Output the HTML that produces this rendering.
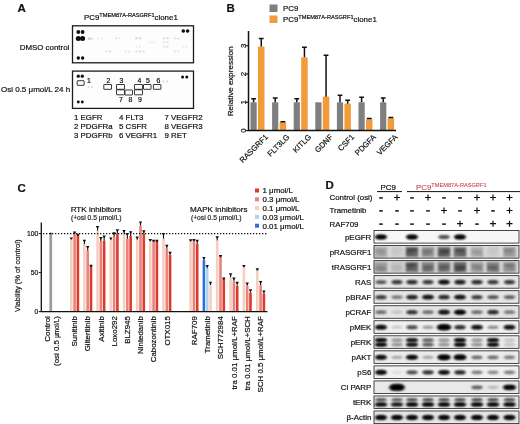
<!DOCTYPE html>
<html lang="en"><head><meta charset="utf-8"><title>Figure</title>
<style>html,body{margin:0;padding:0;background:#fff;}body{width:520px;height:424px;overflow:hidden;}svg{display:block;font-family:'Liberation Sans', sans-serif;}text{stroke:#111;stroke-width:.2px;}text.red{stroke:#c93a4c;stroke-width:.08px;}</style>
</head><body>
<svg width="520" height="424" viewBox="0 0 520 424">
<defs>
<filter id="b1" x="-30%" y="-80%" width="160%" height="260%"><feGaussianBlur stdDeviation="1.1 0.8"/></filter>
<filter id="b2" x="-30%" y="-80%" width="160%" height="260%"><feGaussianBlur stdDeviation="1.2 1.0"/></filter>
<filter id="b0" x="-30%" y="-30%" width="160%" height="160%"><feGaussianBlur stdDeviation="0.5"/></filter>
</defs>
<rect x="0" y="0" width="520" height="424" fill="#ffffff"/>
<g id="panelA">
<text x="17.5" y="12" font-size="11.5" text-anchor="start" font-weight="bold" fill="#111" >A</text>
<text x="84" y="20.4" font-size="7.9" fill="#111">PC9<tspan font-size="5.65" dy="-3.4">TMEM87A-RASGRF1</tspan><tspan font-size="7.9" dy="3.4">clone1</tspan></text>
<rect x="72.5" y="25.8" width="121" height="37" fill="#fdfdfd" stroke="#1c1c1c" stroke-width="1.3"/>
<rect x="72.5" y="71.1" width="121" height="37.3" fill="#fdfdfd" stroke="#1c1c1c" stroke-width="1.3"/>
<circle cx="78.3" cy="32" r="1.9" fill="#0a0a0a" opacity="1.0" filter="url(#b0)"/>
<circle cx="78.3" cy="38.6" r="2.5" fill="#0a0a0a" opacity="1.0" filter="url(#b0)"/>
<circle cx="78.3" cy="58" r="1.7" fill="#0a0a0a" opacity="1.0" filter="url(#b0)"/>
<circle cx="82.6" cy="32" r="1.9" fill="#0a0a0a" opacity="1.0" filter="url(#b0)"/>
<circle cx="82.6" cy="38.6" r="2.5" fill="#0a0a0a" opacity="1.0" filter="url(#b0)"/>
<circle cx="82.6" cy="58" r="1.7" fill="#0a0a0a" opacity="1.0" filter="url(#b0)"/>
<circle cx="183.3" cy="31" r="1.8" fill="#0a0a0a" opacity="1.0" filter="url(#b0)"/>
<circle cx="187.6" cy="31" r="1.8" fill="#0a0a0a" opacity="1.0" filter="url(#b0)"/>
<circle cx="89.2" cy="38.8" r="1.2" fill="#555" opacity="0.28" filter="url(#b0)"/>
<circle cx="91.6" cy="38.8" r="1.2" fill="#555" opacity="0.2" filter="url(#b0)"/>
<circle cx="116.2" cy="38.3" r="1.2" fill="#555" opacity="0.12" filter="url(#b0)"/>
<circle cx="119.5" cy="38.3" r="1.2" fill="#555" opacity="0.1" filter="url(#b0)"/>
<circle cx="136.4" cy="38.3" r="1.2" fill="#555" opacity="0.2" filter="url(#b0)"/>
<circle cx="140" cy="38.3" r="1.2" fill="#555" opacity="0.2" filter="url(#b0)"/>
<circle cx="163.9" cy="38.3" r="1.2" fill="#555" opacity="0.16" filter="url(#b0)"/>
<circle cx="167.5" cy="38.3" r="1.2" fill="#555" opacity="0.16" filter="url(#b0)"/>
<circle cx="175.1" cy="38.3" r="1.2" fill="#555" opacity="0.14" filter="url(#b0)"/>
<circle cx="178.2" cy="38.8" r="1.2" fill="#555" opacity="0.14" filter="url(#b0)"/>
<circle cx="136.4" cy="51.4" r="1.2" fill="#555" opacity="0.16" filter="url(#b0)"/>
<circle cx="140" cy="51.4" r="1.2" fill="#555" opacity="0.16" filter="url(#b0)"/>
<circle cx="143.6" cy="51.4" r="1.2" fill="#555" opacity="0.14" filter="url(#b0)"/>
<circle cx="106.6" cy="51.4" r="1.2" fill="#555" opacity="0.14" filter="url(#b0)"/>
<circle cx="110.2" cy="51.4" r="1.2" fill="#555" opacity="0.14" filter="url(#b0)"/>
<circle cx="163.9" cy="46.7" r="1.2" fill="#555" opacity="0.14" filter="url(#b0)"/>
<circle cx="167.5" cy="46.7" r="1.2" fill="#555" opacity="0.14" filter="url(#b0)"/>
<circle cx="175.1" cy="51.4" r="1.2" fill="#555" opacity="0.12" filter="url(#b0)"/>
<circle cx="178.2" cy="51.4" r="1.2" fill="#555" opacity="0.12" filter="url(#b0)"/>
<circle cx="163.9" cy="42.2" r="1.2" fill="#555" opacity="0.1" filter="url(#b0)"/>
<circle cx="167.5" cy="42.2" r="1.2" fill="#555" opacity="0.1" filter="url(#b0)"/>
<circle cx="125.7" cy="51.4" r="1.2" fill="#555" opacity="0.1" filter="url(#b0)"/>
<circle cx="129.2" cy="51.4" r="1.2" fill="#555" opacity="0.1" filter="url(#b0)"/>
<circle cx="150" cy="42.5" r="1.2" fill="#555" opacity="0.08" filter="url(#b0)"/>
<circle cx="153.5" cy="42.5" r="1.2" fill="#555" opacity="0.08" filter="url(#b0)"/>
<circle cx="136.4" cy="46.7" r="1.2" fill="#555" opacity="0.08" filter="url(#b0)"/>
<circle cx="140" cy="46.7" r="1.2" fill="#555" opacity="0.08" filter="url(#b0)"/>
<circle cx="98" cy="38.5" r="1.2" fill="#555" opacity="0.08" filter="url(#b0)"/>
<circle cx="101.5" cy="38.5" r="1.2" fill="#555" opacity="0.08" filter="url(#b0)"/>
<circle cx="183" cy="46.7" r="1.2" fill="#555" opacity="0.08" filter="url(#b0)"/>
<circle cx="186.5" cy="46.7" r="1.2" fill="#555" opacity="0.08" filter="url(#b0)"/>
<circle cx="78.3" cy="76.2" r="1.6" fill="#0a0a0a" opacity="1.0" filter="url(#b0)"/>
<circle cx="78.3" cy="102" r="1.4" fill="#0a0a0a" opacity="1.0" filter="url(#b0)"/>
<circle cx="82.3" cy="76.2" r="1.6" fill="#0a0a0a" opacity="1.0" filter="url(#b0)"/>
<circle cx="82.3" cy="102" r="1.4" fill="#0a0a0a" opacity="1.0" filter="url(#b0)"/>
<circle cx="182.6" cy="76.9" r="1.5" fill="#0a0a0a" opacity="1.0" filter="url(#b0)"/>
<circle cx="186.8" cy="76.9" r="1.5" fill="#0a0a0a" opacity="1.0" filter="url(#b0)"/>
<circle cx="163.5" cy="81.5" r="1.0" fill="#999" opacity="0.35" filter="url(#b0)"/>
<circle cx="167" cy="81.5" r="1.0" fill="#999" opacity="0.35" filter="url(#b0)"/>
<circle cx="88.5" cy="87" r="1.0" fill="#999" opacity="0.35" filter="url(#b0)"/>
<circle cx="92" cy="87" r="1.0" fill="#999" opacity="0.35" filter="url(#b0)"/>
<rect x="77.2" y="80.7" width="6.9" height="4.6" rx="0.3" fill="none" stroke="#222" stroke-width="0.9"/>
<rect x="103.8" y="84.5" width="7.7" height="4.8" rx="0.3" fill="none" stroke="#222" stroke-width="0.9"/>
<rect x="116.5" y="84.5" width="8" height="4.8" rx="0.3" fill="none" stroke="#222" stroke-width="0.9"/>
<rect x="116.5" y="89.8" width="8" height="5" rx="0.3" fill="none" stroke="#222" stroke-width="0.9"/>
<rect x="125" y="90" width="7.5" height="5" rx="0.3" fill="none" stroke="#222" stroke-width="0.9"/>
<rect x="134.5" y="84.5" width="8" height="4.8" rx="0.3" fill="none" stroke="#222" stroke-width="0.9"/>
<rect x="134.5" y="89.8" width="8" height="5" rx="0.3" fill="none" stroke="#222" stroke-width="0.9"/>
<rect x="143.5" y="84.5" width="7.5" height="4.8" rx="0.3" fill="none" stroke="#222" stroke-width="0.9"/>
<rect x="153.4" y="84.5" width="7.5" height="4.8" rx="0.3" fill="none" stroke="#222" stroke-width="0.9"/>
<text x="89" y="82.5" font-size="6.9" text-anchor="middle" font-weight="normal" fill="#111" >1</text>
<text x="108.4" y="82.5" font-size="6.9" text-anchor="middle" font-weight="normal" fill="#111" >2</text>
<text x="121.4" y="82.5" font-size="6.9" text-anchor="middle" font-weight="normal" fill="#111" >3</text>
<text x="139.5" y="82.5" font-size="6.9" text-anchor="middle" font-weight="normal" fill="#111" >4</text>
<text x="147.8" y="82.5" font-size="6.9" text-anchor="middle" font-weight="normal" fill="#111" >5</text>
<text x="158.4" y="82.5" font-size="6.9" text-anchor="middle" font-weight="normal" fill="#111" >6</text>
<text x="121" y="102" font-size="6.9" text-anchor="middle" font-weight="normal" fill="#111" >7</text>
<text x="130.5" y="102" font-size="6.9" text-anchor="middle" font-weight="normal" fill="#111" >8</text>
<text x="140" y="102" font-size="6.9" text-anchor="middle" font-weight="normal" fill="#111" >9</text>
<text x="69.3" y="50" font-size="7.9" text-anchor="end" font-weight="normal" fill="#111" >DMSO control</text>
<text x="70.2" y="92.2" font-size="8.0" text-anchor="end" font-weight="normal" fill="#111" >Osi 0.5 μmol/L 24 h</text>
<text x="74" y="120.2" font-size="7.9" text-anchor="start" font-weight="normal" fill="#111" >1 EGFR</text>
<text x="119" y="120.2" font-size="7.9" text-anchor="start" font-weight="normal" fill="#111" >4 FLT3</text>
<text x="164.5" y="120.2" font-size="7.9" text-anchor="start" font-weight="normal" fill="#111" >7 VEGFR2</text>
<text x="74" y="129.0" font-size="7.9" text-anchor="start" font-weight="normal" fill="#111" >2 PDGFRa</text>
<text x="119" y="129.0" font-size="7.9" text-anchor="start" font-weight="normal" fill="#111" >5 CSFR</text>
<text x="164.5" y="129.0" font-size="7.9" text-anchor="start" font-weight="normal" fill="#111" >8 VEGFR3</text>
<text x="74" y="137.8" font-size="7.9" text-anchor="start" font-weight="normal" fill="#111" >3 PDGFRb</text>
<text x="119" y="137.8" font-size="7.9" text-anchor="start" font-weight="normal" fill="#111" >6 VEGFR1</text>
<text x="164.5" y="137.8" font-size="7.9" text-anchor="start" font-weight="normal" fill="#111" >9 RET</text>
</g>
<g id="panelB">
<text x="226.5" y="11.5" font-size="11.5" text-anchor="start" font-weight="bold" fill="#111" >B</text>
<rect x="269.5" y="4.5" width="8" height="7.5" fill="#7f7f7f"/>
<rect x="269.5" y="15.5" width="8" height="7.5" fill="#f39a3a"/>
<text x="283" y="10.8" font-size="7.9" text-anchor="start" font-weight="normal" fill="#111" >PC9</text>
<text x="283" y="22.3" font-size="7.9" fill="#111">PC9<tspan font-size="5.65" dy="-3.4">TMEM87A-RASGRF1</tspan><tspan font-size="7.9" dy="3.4">clone1</tspan></text>
<rect x="250.50" y="102.30" width="6.2" height="28.30" fill="#7f7f7f"/>
<rect x="258.00" y="46.55" width="6.5" height="84.05" fill="#f39a3a"/>
<path d="M253.60 102.30V98.34M251.20 98.74H256.00" stroke="#111" stroke-width="1.5" fill="none"/>
<path d="M261.25 46.55V38.06M258.85 38.46H263.65" stroke="#111" stroke-width="1.5" fill="none"/>
<text transform="translate(268.5 137.5) rotate(-45)" font-size="7.7" text-anchor="end" fill="#111">RASGRF1</text>
<rect x="272.10" y="102.30" width="6.2" height="28.30" fill="#7f7f7f"/>
<rect x="279.60" y="122.11" width="6.5" height="8.49" fill="#f39a3a"/>
<path d="M275.20 102.30V97.49M272.80 97.89H277.60" stroke="#111" stroke-width="1.5" fill="none"/>
<path d="M282.85 122.11V121.26M280.45 121.66H285.25" stroke="#111" stroke-width="1.5" fill="none"/>
<text transform="translate(290.1 137.5) rotate(-45)" font-size="7.7" text-anchor="end" fill="#111">FLT3LG</text>
<rect x="293.70" y="102.30" width="6.2" height="28.30" fill="#7f7f7f"/>
<rect x="301.20" y="57.30" width="6.5" height="73.30" fill="#f39a3a"/>
<path d="M296.80 102.30V98.34M294.40 98.74H299.20" stroke="#111" stroke-width="1.5" fill="none"/>
<path d="M304.45 57.30V46.83M302.05 47.23H306.85" stroke="#111" stroke-width="1.5" fill="none"/>
<text transform="translate(311.7 137.5) rotate(-45)" font-size="7.7" text-anchor="end" fill="#111">KITLG</text>
<rect x="315.30" y="102.30" width="6.2" height="28.30" fill="#7f7f7f"/>
<rect x="322.80" y="96.64" width="6.5" height="33.96" fill="#f39a3a"/>
<path d="M326.05 96.64V54.76M323.65 55.16H328.45" stroke="#111" stroke-width="1.5" fill="none"/>
<text transform="translate(333.3 137.5) rotate(-45)" font-size="7.7" text-anchor="end" fill="#111">GDNF</text>
<rect x="336.90" y="102.30" width="6.2" height="28.30" fill="#7f7f7f"/>
<rect x="344.40" y="103.72" width="6.5" height="26.88" fill="#f39a3a"/>
<path d="M340.00 102.30V94.94M337.60 95.34H342.40" stroke="#111" stroke-width="1.5" fill="none"/>
<path d="M347.65 103.72V99.75M345.25 100.15H350.05" stroke="#111" stroke-width="1.5" fill="none"/>
<text transform="translate(354.9 137.5) rotate(-45)" font-size="7.7" text-anchor="end" fill="#111">CSF1</text>
<rect x="358.50" y="102.30" width="6.2" height="28.30" fill="#7f7f7f"/>
<rect x="366.00" y="119.28" width="6.5" height="11.32" fill="#f39a3a"/>
<path d="M361.60 102.30V96.92M359.20 97.32H364.00" stroke="#111" stroke-width="1.5" fill="none"/>
<path d="M369.25 119.28V118.15M366.85 118.55H371.65" stroke="#111" stroke-width="1.5" fill="none"/>
<text transform="translate(376.5 137.5) rotate(-45)" font-size="7.7" text-anchor="end" fill="#111">PDGFA</text>
<rect x="380.10" y="102.30" width="6.2" height="28.30" fill="#7f7f7f"/>
<rect x="387.60" y="118.15" width="6.5" height="12.45" fill="#f39a3a"/>
<path d="M383.20 102.30V97.49M380.80 97.89H385.60" stroke="#111" stroke-width="1.5" fill="none"/>
<path d="M390.85 118.15V117.02M388.45 117.42H393.25" stroke="#111" stroke-width="1.5" fill="none"/>
<text transform="translate(398.1 137.5) rotate(-45)" font-size="7.7" text-anchor="end" fill="#111">VEGFA</text>
<path d="M248.5 31V131.2M247.9 130.6H396" stroke="#111" stroke-width="1.5" fill="none"/>
<path d="M245.5 130.60H248.5" stroke="#111" stroke-width="1.1"/>
<text transform="translate(246.2 130.60) rotate(-90)" font-size="7.9" text-anchor="middle" fill="#111">0</text>
<path d="M245.5 102.30H248.5" stroke="#111" stroke-width="1.1"/>
<text transform="translate(246.2 102.30) rotate(-90)" font-size="7.9" text-anchor="middle" fill="#111">1</text>
<path d="M245.5 74.00H248.5" stroke="#111" stroke-width="1.1"/>
<text transform="translate(246.2 74.00) rotate(-90)" font-size="7.9" text-anchor="middle" fill="#111">2</text>
<path d="M245.5 45.70H248.5" stroke="#111" stroke-width="1.1"/>
<text transform="translate(246.2 45.70) rotate(-90)" font-size="7.9" text-anchor="middle" fill="#111">3</text>
<text transform="translate(233.2 81.3) rotate(-90)" font-size="8" text-anchor="middle" fill="#111">Relative expression</text>
</g>
<g id="panelC">
<text x="17.5" y="192" font-size="11.5" font-weight="bold" fill="#111">C</text>
<rect x="49.4" y="233.60" width="2.7" height="78.00" fill="#9b9b9b"/>
<circle cx="50.75" cy="233.30" r="0.9" fill="#111"/>
<rect x="70.00" y="238.28" width="2.6" height="73.32" fill="#f7cfc0"/>
<path d="M69.60 237.38H73.00L71.80 239.58H70.80Z" fill="#111"/>
<rect x="73.30" y="233.60" width="2.6" height="78.00" fill="#e8827a"/>
<path d="M74.60 233.60V232.43" stroke="#111" stroke-width="1.1"/>
<path d="M72.90 231.53H76.30L75.10 233.73H74.10Z" fill="#111"/>
<rect x="76.60" y="234.77" width="2.6" height="76.83" fill="#dc3a2a"/>
<path d="M76.20 233.87H79.60L78.40 236.07H77.40Z" fill="#111"/>
<text transform="translate(77.3 316.2) rotate(-90)" font-size="7.9" text-anchor="end" fill="#111">Sunitinib</text>
<rect x="83.10" y="244.13" width="2.6" height="67.47" fill="#f7cfc0"/>
<path d="M84.40 244.13V240.62" stroke="#111" stroke-width="1.1"/>
<path d="M82.70 239.72H86.10L84.90 241.92H83.90Z" fill="#111"/>
<rect x="86.40" y="250.76" width="2.6" height="60.84" fill="#e8827a"/>
<path d="M87.70 250.76V246.86" stroke="#111" stroke-width="1.1"/>
<path d="M86.00 245.96H89.40L88.20 248.16H87.20Z" fill="#111"/>
<rect x="89.70" y="265.58" width="2.6" height="46.02" fill="#dc3a2a"/>
<path d="M89.30 264.68H92.70L91.50 266.88H90.50Z" fill="#111"/>
<text transform="translate(90.4 316.2) rotate(-90)" font-size="7.9" text-anchor="end" fill="#111">Gilteritinib</text>
<rect x="96.25" y="230.87" width="2.6" height="80.73" fill="#f7cfc0"/>
<path d="M97.55 230.87V226.97" stroke="#111" stroke-width="1.1"/>
<path d="M95.85 226.07H99.25L98.05 228.27H97.05Z" fill="#111"/>
<rect x="99.55" y="241.01" width="2.6" height="70.59" fill="#e8827a"/>
<path d="M100.85 241.01V237.89" stroke="#111" stroke-width="1.1"/>
<path d="M99.15 236.99H102.55L101.35 239.19H100.35Z" fill="#111"/>
<rect x="102.85" y="241.01" width="2.6" height="70.59" fill="#dc3a2a"/>
<path d="M104.15 241.01V236.33" stroke="#111" stroke-width="1.1"/>
<path d="M102.45 235.43H105.85L104.65 237.63H103.65Z" fill="#111"/>
<text transform="translate(103.5 316.2) rotate(-90)" font-size="7.9" text-anchor="end" fill="#111">Axitinib</text>
<rect x="109.50" y="239.84" width="2.6" height="71.76" fill="#f7cfc0"/>
<path d="M110.80 239.84V238.28" stroke="#111" stroke-width="1.1"/>
<path d="M109.10 237.38H112.50L111.30 239.58H110.30Z" fill="#111"/>
<rect x="112.80" y="237.11" width="2.6" height="74.49" fill="#e8827a"/>
<path d="M114.10 237.11V233.21" stroke="#111" stroke-width="1.1"/>
<path d="M112.40 232.31H115.80L114.60 234.51H113.60Z" fill="#111"/>
<rect x="116.10" y="233.60" width="2.6" height="78.00" fill="#dc3a2a"/>
<path d="M117.40 233.60V230.09" stroke="#111" stroke-width="1.1"/>
<path d="M115.70 229.19H119.10L117.90 231.39H116.90Z" fill="#111"/>
<text transform="translate(116.8 316.2) rotate(-90)" font-size="7.9" text-anchor="end" fill="#111">Loxo292</text>
<rect x="122.75" y="233.60" width="2.6" height="78.00" fill="#f7cfc0"/>
<path d="M124.05 233.60V230.87" stroke="#111" stroke-width="1.1"/>
<path d="M122.35 229.97H125.75L124.55 232.17H123.55Z" fill="#111"/>
<rect x="126.05" y="238.67" width="2.6" height="72.93" fill="#e8827a"/>
<path d="M127.35 238.67V233.99" stroke="#111" stroke-width="1.1"/>
<path d="M125.65 233.09H129.05L127.85 235.29H126.85Z" fill="#111"/>
<rect x="129.35" y="235.94" width="2.6" height="75.66" fill="#dc3a2a"/>
<path d="M130.65 235.94V232.04" stroke="#111" stroke-width="1.1"/>
<path d="M128.95 231.14H132.35L131.15 233.34H130.15Z" fill="#111"/>
<text transform="translate(130.0 316.2) rotate(-90)" font-size="7.9" text-anchor="end" fill="#111">BLZ945</text>
<rect x="135.90" y="239.84" width="2.6" height="71.76" fill="#f7cfc0"/>
<path d="M137.20 239.84V237.50" stroke="#111" stroke-width="1.1"/>
<path d="M135.50 236.60H138.90L137.70 238.80H136.70Z" fill="#111"/>
<rect x="139.20" y="225.41" width="2.6" height="86.19" fill="#e8827a"/>
<path d="M140.50 225.41V222.29" stroke="#111" stroke-width="1.1"/>
<path d="M138.80 221.39H142.20L141.00 223.59H140.00Z" fill="#111"/>
<rect x="142.50" y="233.60" width="2.6" height="78.00" fill="#dc3a2a"/>
<path d="M143.80 233.60V231.26" stroke="#111" stroke-width="1.1"/>
<path d="M142.10 230.36H145.50L144.30 232.56H143.30Z" fill="#111"/>
<text transform="translate(143.2 316.2) rotate(-90)" font-size="7.9" text-anchor="end" fill="#111">Nintedanib</text>
<rect x="149.00" y="239.84" width="2.6" height="71.76" fill="#f7cfc0"/>
<path d="M148.60 238.94H152.00L150.80 241.14H149.80Z" fill="#111"/>
<rect x="152.30" y="240.62" width="2.6" height="70.98" fill="#e8827a"/>
<path d="M151.90 239.72H155.30L154.10 241.92H153.10Z" fill="#111"/>
<rect x="155.60" y="240.62" width="2.6" height="70.98" fill="#dc3a2a"/>
<path d="M155.20 239.72H158.60L157.40 241.92H156.40Z" fill="#111"/>
<text transform="translate(156.3 316.2) rotate(-90)" font-size="7.9" text-anchor="end" fill="#111">Cabozontinib</text>
<rect x="162.20" y="238.67" width="2.6" height="72.93" fill="#f7cfc0"/>
<path d="M163.50 238.67V233.99" stroke="#111" stroke-width="1.1"/>
<path d="M161.80 233.09H165.20L164.00 235.29H163.00Z" fill="#111"/>
<rect x="165.50" y="248.81" width="2.6" height="62.79" fill="#e8827a"/>
<path d="M166.80 248.81V245.69" stroke="#111" stroke-width="1.1"/>
<path d="M165.10 244.79H168.50L167.30 246.99H166.30Z" fill="#111"/>
<rect x="168.80" y="255.05" width="2.6" height="56.55" fill="#dc3a2a"/>
<path d="M170.10 255.05V252.71" stroke="#111" stroke-width="1.1"/>
<path d="M168.40 251.81H171.80L170.60 254.01H169.60Z" fill="#111"/>
<text transform="translate(169.5 316.2) rotate(-90)" font-size="7.9" text-anchor="end" fill="#111">OTX015</text>
<rect x="189.30" y="240.23" width="2.6" height="71.37" fill="#f7cfc0"/>
<path d="M188.90 239.33H192.30L191.10 241.53H190.10Z" fill="#111"/>
<rect x="192.60" y="239.84" width="2.6" height="71.76" fill="#e8827a"/>
<path d="M192.20 238.94H195.60L194.40 241.14H193.40Z" fill="#111"/>
<rect x="195.90" y="243.74" width="2.6" height="67.86" fill="#dc3a2a"/>
<path d="M197.20 243.74V240.62" stroke="#111" stroke-width="1.1"/>
<path d="M195.50 239.72H198.90L197.70 241.92H196.70Z" fill="#111"/>
<text transform="translate(196.6 316.2) rotate(-90)" font-size="7.9" text-anchor="end" fill="#111">RAF709</text>
<rect x="202.60" y="260.12" width="2.6" height="51.48" fill="#2d6fdc"/>
<path d="M203.90 260.12V257.78" stroke="#111" stroke-width="1.1"/>
<path d="M202.20 256.88H205.60L204.40 259.08H203.40Z" fill="#111"/>
<rect x="205.90" y="268.31" width="2.6" height="43.29" fill="#a9d6ee"/>
<path d="M207.20 268.31V265.97" stroke="#111" stroke-width="1.1"/>
<path d="M205.50 265.07H208.90L207.70 267.27H206.70Z" fill="#111"/>
<rect x="209.20" y="285.08" width="2.6" height="26.52" fill="#f7cfc0"/>
<path d="M210.50 285.08V282.74" stroke="#111" stroke-width="1.1"/>
<path d="M208.80 281.84H212.20L211.00 284.04H210.00Z" fill="#111"/>
<text transform="translate(209.9 316.2) rotate(-90)" font-size="7.9" text-anchor="end" fill="#111">Trametinib</text>
<rect x="215.90" y="240.62" width="2.6" height="70.98" fill="#f7cfc0"/>
<path d="M217.20 240.62V237.11" stroke="#111" stroke-width="1.1"/>
<path d="M215.50 236.21H218.90L217.70 238.41H216.70Z" fill="#111"/>
<rect x="219.20" y="255.83" width="2.6" height="55.77" fill="#e8827a"/>
<path d="M218.80 254.93H222.20L221.00 257.13H220.00Z" fill="#111"/>
<rect x="222.50" y="278.45" width="2.6" height="33.15" fill="#dc3a2a"/>
<path d="M222.10 277.55H225.50L224.30 279.75H223.30Z" fill="#111"/>
<text transform="translate(223.2 316.2) rotate(-90)" font-size="7.9" text-anchor="end" fill="#111">SCH772984</text>
<rect x="229.30" y="277.28" width="2.6" height="34.32" fill="#f7cfc0"/>
<path d="M230.60 277.28V274.16" stroke="#111" stroke-width="1.1"/>
<path d="M228.90 273.26H232.30L231.10 275.46H230.10Z" fill="#111"/>
<rect x="232.60" y="280.79" width="2.6" height="30.81" fill="#e8827a"/>
<path d="M233.90 280.79V278.45" stroke="#111" stroke-width="1.1"/>
<path d="M232.20 277.55H235.60L234.40 279.75H233.40Z" fill="#111"/>
<rect x="235.90" y="285.86" width="2.6" height="25.74" fill="#dc3a2a"/>
<path d="M237.20 285.86V282.74" stroke="#111" stroke-width="1.1"/>
<path d="M235.50 281.84H238.90L237.70 284.04H236.70Z" fill="#111"/>
<text transform="translate(236.6 316.2) rotate(-90)" font-size="7.9" text-anchor="end" fill="#111">tra 0.01 μmol/L+RAF</text>
<rect x="242.60" y="265.97" width="2.6" height="45.63" fill="#f7cfc0"/>
<path d="M242.20 265.07H245.60L244.40 267.27H243.40Z" fill="#111"/>
<rect x="245.90" y="285.86" width="2.6" height="25.74" fill="#e8827a"/>
<path d="M247.20 285.86V283.52" stroke="#111" stroke-width="1.1"/>
<path d="M245.50 282.62H248.90L247.70 284.82H246.70Z" fill="#111"/>
<rect x="249.20" y="292.49" width="2.6" height="19.11" fill="#dc3a2a"/>
<path d="M250.50 292.49V290.15" stroke="#111" stroke-width="1.1"/>
<path d="M248.80 289.25H252.20L251.00 291.45H250.00Z" fill="#111"/>
<text transform="translate(249.9 316.2) rotate(-90)" font-size="7.9" text-anchor="end" fill="#111">tra 0.01 μmol/L+SCH</text>
<rect x="256.00" y="269.09" width="2.6" height="42.51" fill="#f7cfc0"/>
<path d="M255.60 268.19H259.00L257.80 270.39H256.80Z" fill="#111"/>
<rect x="259.30" y="285.08" width="2.6" height="26.52" fill="#e8827a"/>
<path d="M260.60 285.08V281.96" stroke="#111" stroke-width="1.1"/>
<path d="M258.90 281.06H262.30L261.10 283.26H260.10Z" fill="#111"/>
<rect x="262.60" y="293.66" width="2.6" height="17.94" fill="#dc3a2a"/>
<path d="M263.90 293.66V291.32" stroke="#111" stroke-width="1.1"/>
<path d="M262.20 290.42H265.60L264.40 292.62H263.40Z" fill="#111"/>
<text transform="translate(263.3 316.2) rotate(-90)" font-size="7.9" text-anchor="end" fill="#111">SCH 0.5 μmol/L+RAF</text>
<text transform="translate(50.3 316.2) rotate(-90)" font-size="7.9" text-anchor="end" fill="#111">Control</text>
<text transform="translate(58.9 316.2) rotate(-90)" font-size="7.9" text-anchor="end" fill="#111">(osi 0.5 <tspan font-size="6.3">μmol/L</tspan>)</text>
<path d="M43 233.60H267" stroke="#111" stroke-width="1.3" stroke-dasharray="1.3 1.7" fill="none"/>
<path d="M41.3 222.5V312.20000000000005M40.7 311.6H267.5" stroke="#111" stroke-width="1.3" fill="none"/>
<path d="M38.8 311.60H41.3" stroke="#111" stroke-width="1"/>
<text x="38.3" y="314.1" font-size="6.8" text-anchor="end" font-weight="normal" fill="#111" >0</text>
<path d="M38.8 272.60H41.3" stroke="#111" stroke-width="1"/>
<text x="38.3" y="275.1" font-size="6.8" text-anchor="end" font-weight="normal" fill="#111" >50</text>
<path d="M38.8 233.60H41.3" stroke="#111" stroke-width="1"/>
<text x="38.3" y="236.1" font-size="6.8" text-anchor="end" font-weight="normal" fill="#111" >100</text>
<text transform="translate(19.8 275.8) rotate(-90)" font-size="7.5" text-anchor="middle" fill="#222" stroke-width="0.1">Viability (% of control)</text>
<text x="96" y="212.3" font-size="8.1" text-anchor="middle" font-weight="normal" fill="#111" >RTK inhibitors</text>
<text x="96.2" y="219.8" font-size="6.75" text-anchor="middle" font-weight="normal" fill="#333" stroke-width="0.1">(+osi 0.5 μmol/L)</text>
<text x="218.8" y="212.3" font-size="8.1" text-anchor="middle" font-weight="normal" fill="#111" >MAPK inhibitors</text>
<text x="216.2" y="219.8" font-size="6.75" text-anchor="middle" font-weight="normal" fill="#333" stroke-width="0.1">(+osi 0.5 μmol/L)</text>
<rect x="255" y="188.50" width="4" height="4" fill="#dc3a2a"/>
<text x="262.5" y="193.4" font-size="7.9" text-anchor="start" font-weight="normal" fill="#111" >1 μmol/L</text>
<rect x="255" y="197.30" width="4" height="4" fill="#e8827a"/>
<text x="262.5" y="202.2" font-size="7.9" text-anchor="start" font-weight="normal" fill="#111" >0.3 μmol/L</text>
<rect x="255" y="206.10" width="4" height="4" fill="#f7cfc0"/>
<text x="262.5" y="211.0" font-size="7.9" text-anchor="start" font-weight="normal" fill="#111" >0.1 μmol/L</text>
<rect x="255" y="214.90" width="4" height="4" fill="#a9d6ee"/>
<text x="262.5" y="219.8" font-size="7.9" text-anchor="start" font-weight="normal" fill="#111" >0.03 μmol/L</text>
<rect x="255" y="223.70" width="4" height="4" fill="#2d6fdc"/>
<text x="262.5" y="228.6" font-size="7.9" text-anchor="start" font-weight="normal" fill="#111" >0.01 μmol/L</text>
</g>
<g id="panelD">
<text x="325.5" y="189" font-size="11.5" font-weight="bold" fill="#111">D</text>
<text x="388.3" y="190" font-size="7.9" text-anchor="middle" font-weight="normal" fill="#111" >PC9</text>
<path d="M377 191.6H402" stroke="#111" stroke-width="1"/>
<text class="red" x="416" y="190" font-size="7.9" fill="#c93a4c">PC9<tspan font-size="5.65" dy="-3.4">TMEM87A-RASGRF1</tspan></text>
<path d="M407 191.6H520" stroke="#111" stroke-width="1"/>
<text x="329.5" y="200.4" font-size="7.9" text-anchor="start" font-weight="normal" fill="#111" >Control (osi)</text>
<path d="M379.2 197.9H382.8" stroke="#000" stroke-width="1.4"/>
<path d="M394 197.5H400M397 194.5V200.5" stroke="#111" stroke-width="1.2"/>
<path d="M410.2 197.9H413.8" stroke="#000" stroke-width="1.4"/>
<path d="M425 197.5H431M428 194.5V200.5" stroke="#111" stroke-width="1.2"/>
<path d="M442.2 197.9H445.8" stroke="#000" stroke-width="1.4"/>
<path d="M458.2 197.9H461.8" stroke="#000" stroke-width="1.4"/>
<path d="M474 197.5H480M477 194.5V200.5" stroke="#111" stroke-width="1.2"/>
<path d="M490 197.5H496M493 194.5V200.5" stroke="#111" stroke-width="1.2"/>
<path d="M506.5 197.5H512.5M509.5 194.5V200.5" stroke="#111" stroke-width="1.2"/>
<text x="329.5" y="213.4" font-size="7.9" text-anchor="start" font-weight="normal" fill="#111" >Trametinib</text>
<path d="M379.2 210.9H382.8" stroke="#000" stroke-width="1.4"/>
<path d="M395.2 210.9H398.8" stroke="#000" stroke-width="1.4"/>
<path d="M410.2 210.9H413.8" stroke="#000" stroke-width="1.4"/>
<path d="M426.2 210.9H429.8" stroke="#000" stroke-width="1.4"/>
<path d="M441 210.5H447M444 207.5V213.5" stroke="#111" stroke-width="1.2"/>
<path d="M458.2 210.9H461.8" stroke="#000" stroke-width="1.4"/>
<path d="M474 210.5H480M477 207.5V213.5" stroke="#111" stroke-width="1.2"/>
<path d="M491.2 210.9H494.8" stroke="#000" stroke-width="1.4"/>
<path d="M506.5 210.5H512.5M509.5 207.5V213.5" stroke="#111" stroke-width="1.2"/>
<text x="329.5" y="226.6" font-size="7.9" text-anchor="start" font-weight="normal" fill="#111" >RAF709</text>
<path d="M379.2 224.1H382.8" stroke="#000" stroke-width="1.4"/>
<path d="M395.2 224.1H398.8" stroke="#000" stroke-width="1.4"/>
<path d="M410.2 224.1H413.8" stroke="#000" stroke-width="1.4"/>
<path d="M426.2 224.1H429.8" stroke="#000" stroke-width="1.4"/>
<path d="M442.2 224.1H445.8" stroke="#000" stroke-width="1.4"/>
<path d="M457 223.7H463M460 220.7V226.7" stroke="#111" stroke-width="1.2"/>
<path d="M475.2 224.1H478.8" stroke="#000" stroke-width="1.4"/>
<path d="M490 223.7H496M493 220.7V226.7" stroke="#111" stroke-width="1.2"/>
<path d="M506.5 223.7H512.5M509.5 220.7V226.7" stroke="#111" stroke-width="1.2"/>
<clipPath id="cp0"><rect x="374" y="230.50" width="145" height="12.6"/></clipPath>
<rect x="374" y="230.50" width="145" height="12.6" fill="#f7f7f7"/>
<g clip-path="url(#cp0)">
<rect x="376.28" y="235.20" width="9.44" height="3.60" rx="1.80" fill="#000" opacity="1.00" filter="url(#b1)"/>
<ellipse cx="381.00" cy="237.00" rx="6.37" ry="2.48" fill="#000" opacity="0.75" filter="url(#b1)"/>
<rect x="407.28" y="235.20" width="9.44" height="3.60" rx="1.80" fill="#000" opacity="1.00" filter="url(#b1)"/>
<ellipse cx="412.00" cy="237.00" rx="6.37" ry="2.48" fill="#000" opacity="0.75" filter="url(#b1)"/>
<rect x="439.28" y="235.52" width="9.44" height="2.95" rx="1.48" fill="#000" opacity="0.55" filter="url(#b1)"/>
<ellipse cx="444.00" cy="237.00" rx="6.37" ry="2.03" fill="#000" opacity="0.41" filter="url(#b1)"/>
<rect x="455.28" y="235.20" width="9.44" height="3.60" rx="1.80" fill="#000" opacity="1.00" filter="url(#b1)"/>
<ellipse cx="460.00" cy="237.00" rx="6.37" ry="2.48" fill="#000" opacity="0.75" filter="url(#b1)"/>
</g>
<rect x="374" y="230.50" width="145" height="12.6" fill="none" stroke="#333" stroke-width="0.9"/>
<text x="371.3" y="239.7" font-size="7.9" text-anchor="end" font-weight="normal" fill="#111" >pEGFR</text>
<clipPath id="cp1"><rect x="374" y="245.54" width="145" height="12.6"/></clipPath>
<rect x="374" y="245.54" width="145" height="12.6" fill="#dadada"/>
<g clip-path="url(#cp1)">
<rect x="374.7" y="247.04" width="12.6" height="10" fill="#000" opacity="0.22" filter="url(#b2)"/>
<ellipse cx="380.30" cy="250.94" rx="5.2" ry="1.5" fill="#000" opacity="0.17" filter="url(#b1)"/>
<ellipse cx="381.60" cy="253.94" rx="4" ry="1.2" fill="#000" opacity="0.09" filter="url(#b1)"/>
<rect x="390.7" y="247.04" width="12.6" height="10" fill="#000" opacity="0.06" filter="url(#b2)"/>
<ellipse cx="397.07" cy="250.09" rx="5.2" ry="1.5" fill="#000" opacity="0.04" filter="url(#b1)"/>
<ellipse cx="396.46" cy="253.09" rx="4" ry="1.2" fill="#000" opacity="0.02" filter="url(#b1)"/>
<rect x="405.7" y="247.04" width="12.6" height="10" fill="#000" opacity="0.52" filter="url(#b2)"/>
<ellipse cx="412.01" cy="250.04" rx="5.2" ry="1.5" fill="#000" opacity="0.40" filter="url(#b1)"/>
<ellipse cx="410.15" cy="253.04" rx="4" ry="1.2" fill="#000" opacity="0.22" filter="url(#b1)"/>
<rect x="421.7" y="247.04" width="12.6" height="10" fill="#000" opacity="0.32" filter="url(#b2)"/>
<ellipse cx="427.14" cy="251.31" rx="5.2" ry="1.5" fill="#000" opacity="0.25" filter="url(#b1)"/>
<ellipse cx="426.36" cy="254.31" rx="4" ry="1.2" fill="#000" opacity="0.14" filter="url(#b1)"/>
<rect x="437.7" y="247.04" width="12.6" height="10" fill="#000" opacity="0.54" filter="url(#b2)"/>
<ellipse cx="444.65" cy="251.28" rx="5.2" ry="1.5" fill="#000" opacity="0.41" filter="url(#b1)"/>
<ellipse cx="442.50" cy="254.28" rx="4" ry="1.2" fill="#000" opacity="0.22" filter="url(#b1)"/>
<rect x="453.7" y="247.04" width="12.6" height="10" fill="#000" opacity="0.49" filter="url(#b2)"/>
<ellipse cx="460.25" cy="250.60" rx="5.2" ry="1.5" fill="#000" opacity="0.37" filter="url(#b1)"/>
<ellipse cx="461.79" cy="253.60" rx="4" ry="1.2" fill="#000" opacity="0.20" filter="url(#b1)"/>
<rect x="470.7" y="247.04" width="12.6" height="10" fill="#000" opacity="0.20" filter="url(#b2)"/>
<ellipse cx="476.79" cy="251.80" rx="5.2" ry="1.5" fill="#000" opacity="0.15" filter="url(#b1)"/>
<ellipse cx="478.91" cy="254.80" rx="4" ry="1.2" fill="#000" opacity="0.08" filter="url(#b1)"/>
<rect x="486.7" y="247.04" width="12.6" height="10" fill="#000" opacity="0.06" filter="url(#b2)"/>
<ellipse cx="493.72" cy="250.00" rx="5.2" ry="1.5" fill="#000" opacity="0.04" filter="url(#b1)"/>
<ellipse cx="492.16" cy="253.00" rx="4" ry="1.2" fill="#000" opacity="0.02" filter="url(#b1)"/>
<rect x="503.2" y="247.04" width="12.6" height="10" fill="#000" opacity="0.27" filter="url(#b2)"/>
<ellipse cx="508.74" cy="250.33" rx="5.2" ry="1.5" fill="#000" opacity="0.21" filter="url(#b1)"/>
<ellipse cx="508.73" cy="253.33" rx="4" ry="1.2" fill="#000" opacity="0.11" filter="url(#b1)"/>
</g>
<rect x="374" y="245.54" width="145" height="12.6" fill="none" stroke="#333" stroke-width="0.9"/>
<text x="371.3" y="254.74" font-size="7.9" text-anchor="end" font-weight="normal" fill="#111" >pRASGRF1</text>
<clipPath id="cp2"><rect x="374" y="260.58" width="145" height="12.6"/></clipPath>
<rect x="374" y="260.58" width="145" height="12.6" fill="#d6d6d6"/>
<g clip-path="url(#cp2)">
<rect x="374.7" y="262.08" width="12.6" height="10" fill="#000" opacity="0.27" filter="url(#b2)"/>
<ellipse cx="380.36" cy="267.65" rx="5.2" ry="1.5" fill="#000" opacity="0.21" filter="url(#b1)"/>
<ellipse cx="381.33" cy="270.65" rx="4" ry="1.2" fill="#000" opacity="0.11" filter="url(#b1)"/>
<rect x="390.7" y="262.08" width="12.6" height="10" fill="#000" opacity="0.09" filter="url(#b2)"/>
<ellipse cx="396.74" cy="267.05" rx="5.2" ry="1.5" fill="#000" opacity="0.07" filter="url(#b1)"/>
<ellipse cx="397.19" cy="270.05" rx="4" ry="1.2" fill="#000" opacity="0.04" filter="url(#b1)"/>
<rect x="405.7" y="262.08" width="12.6" height="10" fill="#000" opacity="0.50" filter="url(#b2)"/>
<ellipse cx="411.12" cy="265.09" rx="5.2" ry="1.5" fill="#000" opacity="0.39" filter="url(#b1)"/>
<ellipse cx="410.82" cy="268.09" rx="4" ry="1.2" fill="#000" opacity="0.21" filter="url(#b1)"/>
<rect x="421.7" y="262.08" width="12.6" height="10" fill="#000" opacity="0.40" filter="url(#b2)"/>
<ellipse cx="427.86" cy="267.19" rx="5.2" ry="1.5" fill="#000" opacity="0.30" filter="url(#b1)"/>
<ellipse cx="427.26" cy="270.19" rx="4" ry="1.2" fill="#000" opacity="0.17" filter="url(#b1)"/>
<rect x="437.7" y="262.08" width="12.6" height="10" fill="#000" opacity="0.43" filter="url(#b2)"/>
<ellipse cx="443.91" cy="266.87" rx="5.2" ry="1.5" fill="#000" opacity="0.33" filter="url(#b1)"/>
<ellipse cx="443.20" cy="269.87" rx="4" ry="1.2" fill="#000" opacity="0.18" filter="url(#b1)"/>
<rect x="453.7" y="262.08" width="12.6" height="10" fill="#000" opacity="0.54" filter="url(#b2)"/>
<ellipse cx="460.40" cy="267.58" rx="5.2" ry="1.5" fill="#000" opacity="0.41" filter="url(#b1)"/>
<ellipse cx="458.98" cy="270.58" rx="4" ry="1.2" fill="#000" opacity="0.22" filter="url(#b1)"/>
<rect x="470.7" y="262.08" width="12.6" height="10" fill="#000" opacity="0.27" filter="url(#b2)"/>
<ellipse cx="477.05" cy="266.83" rx="5.2" ry="1.5" fill="#000" opacity="0.21" filter="url(#b1)"/>
<ellipse cx="478.50" cy="269.83" rx="4" ry="1.2" fill="#000" opacity="0.11" filter="url(#b1)"/>
<rect x="486.7" y="262.08" width="12.6" height="10" fill="#000" opacity="0.40" filter="url(#b2)"/>
<ellipse cx="492.58" cy="267.36" rx="5.2" ry="1.5" fill="#000" opacity="0.30" filter="url(#b1)"/>
<ellipse cx="494.92" cy="270.36" rx="4" ry="1.2" fill="#000" opacity="0.17" filter="url(#b1)"/>
<rect x="503.2" y="262.08" width="12.6" height="10" fill="#000" opacity="0.30" filter="url(#b2)"/>
<ellipse cx="509.34" cy="265.28" rx="5.2" ry="1.5" fill="#000" opacity="0.23" filter="url(#b1)"/>
<ellipse cx="510.53" cy="268.28" rx="4" ry="1.2" fill="#000" opacity="0.13" filter="url(#b1)"/>
</g>
<rect x="374" y="260.58" width="145" height="12.6" fill="none" stroke="#333" stroke-width="0.9"/>
<text x="371.3" y="269.78" font-size="7.9" text-anchor="end" font-weight="normal" fill="#111" >tRASGRF1</text>
<clipPath id="cp3"><rect x="374" y="275.62" width="145" height="12.6"/></clipPath>
<rect x="374" y="275.62" width="145" height="12.6" fill="#e6e6e6"/>
<g clip-path="url(#cp3)">
<rect x="376.28" y="280.68" width="9.44" height="2.88" rx="1.44" fill="#000" opacity="0.50" filter="url(#b1)"/>
<ellipse cx="381.00" cy="282.12" rx="6.37" ry="1.98" fill="#000" opacity="0.38" filter="url(#b1)"/>
<rect x="392.28" y="280.59" width="9.44" height="3.05" rx="1.53" fill="#000" opacity="0.62" filter="url(#b1)"/>
<ellipse cx="397.00" cy="282.12" rx="6.37" ry="2.10" fill="#000" opacity="0.46" filter="url(#b1)"/>
<rect x="407.28" y="280.55" width="9.44" height="3.14" rx="1.57" fill="#000" opacity="0.68" filter="url(#b1)"/>
<ellipse cx="412.00" cy="282.12" rx="6.37" ry="2.16" fill="#000" opacity="0.51" filter="url(#b1)"/>
<rect x="423.28" y="280.59" width="9.44" height="3.05" rx="1.53" fill="#000" opacity="0.62" filter="url(#b1)"/>
<ellipse cx="428.00" cy="282.12" rx="6.37" ry="2.10" fill="#000" opacity="0.46" filter="url(#b1)"/>
<rect x="439.28" y="280.39" width="9.44" height="3.46" rx="1.73" fill="#000" opacity="0.90" filter="url(#b1)"/>
<ellipse cx="444.00" cy="282.12" rx="6.37" ry="2.38" fill="#000" opacity="0.68" filter="url(#b1)"/>
<rect x="455.28" y="280.48" width="9.44" height="3.28" rx="1.64" fill="#000" opacity="0.78" filter="url(#b1)"/>
<ellipse cx="460.00" cy="282.12" rx="6.37" ry="2.26" fill="#000" opacity="0.58" filter="url(#b1)"/>
<rect x="472.28" y="280.55" width="9.44" height="3.14" rx="1.57" fill="#000" opacity="0.68" filter="url(#b1)"/>
<ellipse cx="477.00" cy="282.12" rx="6.37" ry="2.16" fill="#000" opacity="0.51" filter="url(#b1)"/>
<rect x="488.28" y="280.59" width="9.44" height="3.05" rx="1.53" fill="#000" opacity="0.62" filter="url(#b1)"/>
<ellipse cx="493.00" cy="282.12" rx="6.37" ry="2.10" fill="#000" opacity="0.46" filter="url(#b1)"/>
<rect x="504.78" y="280.59" width="9.44" height="3.05" rx="1.53" fill="#000" opacity="0.62" filter="url(#b1)"/>
<ellipse cx="509.50" cy="282.12" rx="6.37" ry="2.10" fill="#000" opacity="0.46" filter="url(#b1)"/>
</g>
<rect x="374" y="275.62" width="145" height="12.6" fill="none" stroke="#333" stroke-width="0.9"/>
<text x="371.3" y="284.82" font-size="7.9" text-anchor="end" font-weight="normal" fill="#111" >RAS</text>
<clipPath id="cp4"><rect x="374" y="290.66" width="145" height="12.6"/></clipPath>
<rect x="374" y="290.66" width="145" height="12.6" fill="#e6e6e6"/>
<g clip-path="url(#cp4)">
<rect x="376.28" y="295.65" width="9.44" height="3.02" rx="1.51" fill="#000" opacity="0.60" filter="url(#b1)"/>
<ellipse cx="381.00" cy="297.16" rx="6.37" ry="2.08" fill="#000" opacity="0.45" filter="url(#b1)"/>
<rect x="392.28" y="295.83" width="9.44" height="2.66" rx="1.33" fill="#000" opacity="0.35" filter="url(#b1)"/>
<ellipse cx="397.00" cy="297.16" rx="6.37" ry="1.83" fill="#000" opacity="0.26" filter="url(#b1)"/>
<rect x="407.28" y="295.54" width="9.44" height="3.24" rx="1.62" fill="#000" opacity="0.75" filter="url(#b1)"/>
<ellipse cx="412.00" cy="297.16" rx="6.37" ry="2.23" fill="#000" opacity="0.56" filter="url(#b1)"/>
<rect x="423.28" y="295.47" width="9.44" height="3.38" rx="1.69" fill="#000" opacity="0.85" filter="url(#b1)"/>
<ellipse cx="428.00" cy="297.16" rx="6.37" ry="2.33" fill="#000" opacity="0.64" filter="url(#b1)"/>
<rect x="439.28" y="295.58" width="9.44" height="3.17" rx="1.58" fill="#000" opacity="0.70" filter="url(#b1)"/>
<ellipse cx="444.00" cy="297.16" rx="6.37" ry="2.18" fill="#000" opacity="0.52" filter="url(#b1)"/>
<rect x="455.28" y="295.47" width="9.44" height="3.38" rx="1.69" fill="#000" opacity="0.85" filter="url(#b1)"/>
<ellipse cx="460.00" cy="297.16" rx="6.37" ry="2.33" fill="#000" opacity="0.64" filter="url(#b1)"/>
<rect x="472.28" y="295.65" width="9.44" height="3.02" rx="1.51" fill="#000" opacity="0.60" filter="url(#b1)"/>
<ellipse cx="477.00" cy="297.16" rx="6.37" ry="2.08" fill="#000" opacity="0.45" filter="url(#b1)"/>
<rect x="488.28" y="295.72" width="9.44" height="2.88" rx="1.44" fill="#000" opacity="0.50" filter="url(#b1)"/>
<ellipse cx="493.00" cy="297.16" rx="6.37" ry="1.98" fill="#000" opacity="0.38" filter="url(#b1)"/>
<rect x="504.78" y="295.76" width="9.44" height="2.81" rx="1.40" fill="#000" opacity="0.45" filter="url(#b1)"/>
<ellipse cx="509.50" cy="297.16" rx="6.37" ry="1.93" fill="#000" opacity="0.34" filter="url(#b1)"/>
</g>
<rect x="374" y="290.66" width="145" height="12.6" fill="none" stroke="#333" stroke-width="0.9"/>
<text x="371.3" y="299.86" font-size="7.9" text-anchor="end" font-weight="normal" fill="#111" >pBRAF</text>
<clipPath id="cp5"><rect x="374" y="305.70" width="145" height="12.6"/></clipPath>
<rect x="374" y="305.70" width="145" height="12.6" fill="#e4e4e4"/>
<g clip-path="url(#cp5)">
<rect x="376.28" y="310.83" width="9.44" height="2.74" rx="1.37" fill="#000" opacity="0.40" filter="url(#b1)"/>
<ellipse cx="381.00" cy="312.20" rx="6.37" ry="1.88" fill="#000" opacity="0.30" filter="url(#b1)"/>
<rect x="392.28" y="311.05" width="9.44" height="2.30" rx="1.15" fill="#000" opacity="0.10" filter="url(#b1)"/>
<ellipse cx="397.00" cy="312.20" rx="6.37" ry="1.58" fill="#000" opacity="0.08" filter="url(#b1)"/>
<rect x="407.28" y="310.65" width="9.44" height="3.10" rx="1.55" fill="#000" opacity="0.65" filter="url(#b1)"/>
<ellipse cx="412.00" cy="312.20" rx="6.37" ry="2.13" fill="#000" opacity="0.49" filter="url(#b1)"/>
<rect x="423.28" y="310.83" width="9.44" height="2.74" rx="1.37" fill="#000" opacity="0.40" filter="url(#b1)"/>
<ellipse cx="428.00" cy="312.20" rx="6.37" ry="1.88" fill="#000" opacity="0.30" filter="url(#b1)"/>
<rect x="439.28" y="310.51" width="9.44" height="3.38" rx="1.69" fill="#000" opacity="0.85" filter="url(#b1)"/>
<ellipse cx="444.00" cy="312.20" rx="6.37" ry="2.33" fill="#000" opacity="0.64" filter="url(#b1)"/>
<rect x="455.28" y="310.40" width="9.44" height="3.60" rx="1.80" fill="#000" opacity="1.00" filter="url(#b1)"/>
<ellipse cx="460.00" cy="312.20" rx="6.37" ry="2.48" fill="#000" opacity="0.75" filter="url(#b1)"/>
<rect x="472.28" y="310.83" width="9.44" height="2.74" rx="1.37" fill="#000" opacity="0.40" filter="url(#b1)"/>
<ellipse cx="477.00" cy="312.20" rx="6.37" ry="1.88" fill="#000" opacity="0.30" filter="url(#b1)"/>
<rect x="488.28" y="310.62" width="9.44" height="3.17" rx="1.58" fill="#000" opacity="0.70" filter="url(#b1)"/>
<ellipse cx="493.00" cy="312.20" rx="6.37" ry="2.18" fill="#000" opacity="0.52" filter="url(#b1)"/>
<rect x="504.78" y="310.87" width="9.44" height="2.66" rx="1.33" fill="#000" opacity="0.35" filter="url(#b1)"/>
<ellipse cx="509.50" cy="312.20" rx="6.37" ry="1.83" fill="#000" opacity="0.26" filter="url(#b1)"/>
</g>
<rect x="374" y="305.70" width="145" height="12.6" fill="none" stroke="#333" stroke-width="0.9"/>
<text x="371.3" y="314.9" font-size="7.9" text-anchor="end" font-weight="normal" fill="#111" >pCRAF</text>
<clipPath id="cp6"><rect x="374" y="320.74" width="145" height="12.6"/></clipPath>
<rect x="374" y="320.74" width="145" height="12.6" fill="#f0f0f0"/>
<g clip-path="url(#cp6)">
<rect x="376.28" y="325.51" width="9.44" height="3.46" rx="1.73" fill="#000" opacity="0.90" filter="url(#b1)"/>
<ellipse cx="381.00" cy="327.24" rx="6.37" ry="2.38" fill="#000" opacity="0.68" filter="url(#b1)"/>
<rect x="392.28" y="326.09" width="9.44" height="2.30" rx="1.15" fill="#000" opacity="0.10" filter="url(#b1)"/>
<ellipse cx="397.00" cy="327.24" rx="6.37" ry="1.58" fill="#000" opacity="0.08" filter="url(#b1)"/>
<rect x="407.28" y="325.76" width="9.44" height="2.95" rx="1.48" fill="#000" opacity="0.55" filter="url(#b1)"/>
<ellipse cx="412.00" cy="327.24" rx="6.37" ry="2.03" fill="#000" opacity="0.41" filter="url(#b1)"/>
<rect x="423.28" y="325.98" width="9.44" height="2.52" rx="1.26" fill="#000" opacity="0.25" filter="url(#b1)"/>
<ellipse cx="428.00" cy="327.24" rx="6.37" ry="1.73" fill="#000" opacity="0.19" filter="url(#b1)"/>
<rect x="438.32" y="324.92" width="11.36" height="4.64" rx="2.32" fill="#000" opacity="1.00" filter="url(#b1)"/>
<ellipse cx="444.00" cy="327.24" rx="7.67" ry="3.19" fill="#000" opacity="0.75" filter="url(#b1)"/>
<rect x="455.28" y="325.66" width="9.44" height="3.17" rx="1.58" fill="#000" opacity="0.70" filter="url(#b1)"/>
<ellipse cx="460.00" cy="327.24" rx="6.37" ry="2.18" fill="#000" opacity="0.52" filter="url(#b1)"/>
<rect x="472.28" y="325.55" width="9.44" height="3.38" rx="1.69" fill="#000" opacity="0.85" filter="url(#b1)"/>
<ellipse cx="477.00" cy="327.24" rx="6.37" ry="2.33" fill="#000" opacity="0.64" filter="url(#b1)"/>
<rect x="488.28" y="325.94" width="9.44" height="2.59" rx="1.30" fill="#000" opacity="0.30" filter="url(#b1)"/>
<ellipse cx="493.00" cy="327.24" rx="6.37" ry="1.78" fill="#000" opacity="0.22" filter="url(#b1)"/>
<rect x="504.78" y="325.55" width="9.44" height="3.38" rx="1.69" fill="#000" opacity="0.85" filter="url(#b1)"/>
<ellipse cx="509.50" cy="327.24" rx="6.37" ry="2.33" fill="#000" opacity="0.64" filter="url(#b1)"/>
</g>
<rect x="374" y="320.74" width="145" height="12.6" fill="none" stroke="#333" stroke-width="0.9"/>
<text x="371.3" y="329.94" font-size="7.9" text-anchor="end" font-weight="normal" fill="#111" >pMEK</text>
<clipPath id="cp7"><rect x="374" y="335.78" width="145" height="12.6"/></clipPath>
<rect x="374" y="335.78" width="145" height="12.6" fill="#ececec"/>
<g clip-path="url(#cp7)">
<rect x="376.04" y="338.72" width="9.92" height="2.72" rx="1.36" fill="#000" opacity="1.00" filter="url(#b1)"/>
<ellipse cx="381.00" cy="340.08" rx="6.70" ry="1.87" fill="#000" opacity="0.75" filter="url(#b1)"/>
<rect x="376.04" y="343.24" width="9.92" height="2.88" rx="1.44" fill="#000" opacity="1.00" filter="url(#b1)"/>
<ellipse cx="381.00" cy="344.68" rx="6.70" ry="1.98" fill="#000" opacity="0.75" filter="url(#b1)"/>
<rect x="392.04" y="338.72" width="9.92" height="2.72" rx="1.36" fill="#000" opacity="0.25" filter="url(#b1)"/>
<ellipse cx="397.00" cy="340.08" rx="6.70" ry="1.87" fill="#000" opacity="0.19" filter="url(#b1)"/>
<rect x="392.04" y="343.24" width="9.92" height="2.88" rx="1.44" fill="#000" opacity="0.25" filter="url(#b1)"/>
<ellipse cx="397.00" cy="344.68" rx="6.70" ry="1.98" fill="#000" opacity="0.19" filter="url(#b1)"/>
<rect x="407.04" y="338.72" width="9.92" height="2.72" rx="1.36" fill="#000" opacity="0.90" filter="url(#b1)"/>
<ellipse cx="412.00" cy="340.08" rx="6.70" ry="1.87" fill="#000" opacity="0.68" filter="url(#b1)"/>
<rect x="407.04" y="343.24" width="9.92" height="2.88" rx="1.44" fill="#000" opacity="0.90" filter="url(#b1)"/>
<ellipse cx="412.00" cy="344.68" rx="6.70" ry="1.98" fill="#000" opacity="0.68" filter="url(#b1)"/>
<rect x="423.04" y="338.72" width="9.92" height="2.72" rx="1.36" fill="#000" opacity="0.45" filter="url(#b1)"/>
<ellipse cx="428.00" cy="340.08" rx="6.70" ry="1.87" fill="#000" opacity="0.34" filter="url(#b1)"/>
<rect x="423.04" y="343.24" width="9.92" height="2.88" rx="1.44" fill="#000" opacity="0.45" filter="url(#b1)"/>
<ellipse cx="428.00" cy="344.68" rx="6.70" ry="1.98" fill="#000" opacity="0.34" filter="url(#b1)"/>
<rect x="439.04" y="338.72" width="9.92" height="2.72" rx="1.36" fill="#000" opacity="0.25" filter="url(#b1)"/>
<ellipse cx="444.00" cy="340.08" rx="6.70" ry="1.87" fill="#000" opacity="0.19" filter="url(#b1)"/>
<rect x="439.04" y="343.24" width="9.92" height="2.88" rx="1.44" fill="#000" opacity="0.25" filter="url(#b1)"/>
<ellipse cx="444.00" cy="344.68" rx="6.70" ry="1.98" fill="#000" opacity="0.19" filter="url(#b1)"/>
<rect x="455.04" y="338.72" width="9.92" height="2.72" rx="1.36" fill="#000" opacity="1.00" filter="url(#b1)"/>
<ellipse cx="460.00" cy="340.08" rx="6.70" ry="1.87" fill="#000" opacity="0.75" filter="url(#b1)"/>
<rect x="455.04" y="343.24" width="9.92" height="2.88" rx="1.44" fill="#000" opacity="1.00" filter="url(#b1)"/>
<ellipse cx="460.00" cy="344.68" rx="6.70" ry="1.98" fill="#000" opacity="0.75" filter="url(#b1)"/>
<rect x="472.04" y="338.72" width="9.92" height="2.72" rx="1.36" fill="#000" opacity="0.25" filter="url(#b1)"/>
<ellipse cx="477.00" cy="340.08" rx="6.70" ry="1.87" fill="#000" opacity="0.19" filter="url(#b1)"/>
<rect x="472.04" y="343.24" width="9.92" height="2.88" rx="1.44" fill="#000" opacity="0.25" filter="url(#b1)"/>
<ellipse cx="477.00" cy="344.68" rx="6.70" ry="1.98" fill="#000" opacity="0.19" filter="url(#b1)"/>
<rect x="488.04" y="338.72" width="9.92" height="2.72" rx="1.36" fill="#000" opacity="0.95" filter="url(#b1)"/>
<ellipse cx="493.00" cy="340.08" rx="6.70" ry="1.87" fill="#000" opacity="0.71" filter="url(#b1)"/>
<rect x="488.04" y="343.24" width="9.92" height="2.88" rx="1.44" fill="#000" opacity="0.95" filter="url(#b1)"/>
<ellipse cx="493.00" cy="344.68" rx="6.70" ry="1.98" fill="#000" opacity="0.71" filter="url(#b1)"/>
<rect x="504.54" y="338.72" width="9.92" height="2.72" rx="1.36" fill="#000" opacity="0.10" filter="url(#b1)"/>
<ellipse cx="509.50" cy="340.08" rx="6.70" ry="1.87" fill="#000" opacity="0.08" filter="url(#b1)"/>
<rect x="504.54" y="343.24" width="9.92" height="2.88" rx="1.44" fill="#000" opacity="0.10" filter="url(#b1)"/>
<ellipse cx="509.50" cy="344.68" rx="6.70" ry="1.98" fill="#000" opacity="0.08" filter="url(#b1)"/>
</g>
<rect x="374" y="335.78" width="145" height="12.6" fill="none" stroke="#333" stroke-width="0.9"/>
<text x="371.3" y="344.98" font-size="7.9" text-anchor="end" font-weight="normal" fill="#111" >pERK</text>
<clipPath id="cp8"><rect x="374" y="350.82" width="145" height="12.6"/></clipPath>
<rect x="374" y="350.82" width="145" height="12.6" fill="#ececec"/>
<g clip-path="url(#cp8)">
<rect x="376.28" y="355.59" width="9.44" height="3.46" rx="1.73" fill="#000" opacity="0.90" filter="url(#b1)"/>
<ellipse cx="381.00" cy="357.32" rx="6.37" ry="2.38" fill="#000" opacity="0.68" filter="url(#b1)"/>
<rect x="392.28" y="356.10" width="9.44" height="2.45" rx="1.22" fill="#000" opacity="0.20" filter="url(#b1)"/>
<ellipse cx="397.00" cy="357.32" rx="6.37" ry="1.68" fill="#000" opacity="0.15" filter="url(#b1)"/>
<rect x="407.28" y="355.56" width="9.44" height="3.53" rx="1.76" fill="#000" opacity="0.95" filter="url(#b1)"/>
<ellipse cx="412.00" cy="357.32" rx="6.37" ry="2.43" fill="#000" opacity="0.71" filter="url(#b1)"/>
<rect x="423.28" y="356.10" width="9.44" height="2.45" rx="1.22" fill="#000" opacity="0.20" filter="url(#b1)"/>
<ellipse cx="428.00" cy="357.32" rx="6.37" ry="1.68" fill="#000" opacity="0.15" filter="url(#b1)"/>
<rect x="438.68" y="355.26" width="10.64" height="4.12" rx="2.06" fill="#000" opacity="1.00" filter="url(#b1)"/>
<ellipse cx="444.00" cy="357.32" rx="7.18" ry="2.83" fill="#000" opacity="0.75" filter="url(#b1)"/>
<rect x="454.80" y="355.35" width="10.40" height="3.95" rx="1.97" fill="#000" opacity="1.00" filter="url(#b1)"/>
<ellipse cx="460.00" cy="357.32" rx="7.02" ry="2.71" fill="#000" opacity="0.75" filter="url(#b1)"/>
<rect x="472.28" y="355.95" width="9.44" height="2.74" rx="1.37" fill="#000" opacity="0.40" filter="url(#b1)"/>
<ellipse cx="477.00" cy="357.32" rx="6.37" ry="1.88" fill="#000" opacity="0.30" filter="url(#b1)"/>
<rect x="488.28" y="355.95" width="9.44" height="2.74" rx="1.37" fill="#000" opacity="0.40" filter="url(#b1)"/>
<ellipse cx="493.00" cy="357.32" rx="6.37" ry="1.88" fill="#000" opacity="0.30" filter="url(#b1)"/>
<rect x="504.78" y="355.99" width="9.44" height="2.66" rx="1.33" fill="#000" opacity="0.35" filter="url(#b1)"/>
<ellipse cx="509.50" cy="357.32" rx="6.37" ry="1.83" fill="#000" opacity="0.26" filter="url(#b1)"/>
</g>
<rect x="374" y="350.82" width="145" height="12.6" fill="none" stroke="#333" stroke-width="0.9"/>
<text x="371.3" y="360.02" font-size="7.9" text-anchor="end" font-weight="normal" fill="#111" >pAKT</text>
<clipPath id="cp9"><rect x="374" y="365.86" width="145" height="12.6"/></clipPath>
<rect x="374" y="365.86" width="145" height="12.6" fill="#f0f0f0"/>
<g clip-path="url(#cp9)">
<rect x="376.28" y="370.60" width="9.44" height="3.53" rx="1.76" fill="#000" opacity="0.95" filter="url(#b1)"/>
<ellipse cx="381.00" cy="372.36" rx="6.37" ry="2.43" fill="#000" opacity="0.71" filter="url(#b1)"/>
<rect x="392.28" y="371.24" width="9.44" height="2.23" rx="1.12" fill="#000" opacity="0.05" filter="url(#b1)"/>
<ellipse cx="397.00" cy="372.36" rx="6.37" ry="1.53" fill="#000" opacity="0.04" filter="url(#b1)"/>
<rect x="407.28" y="370.88" width="9.44" height="2.95" rx="1.48" fill="#000" opacity="0.55" filter="url(#b1)"/>
<ellipse cx="412.00" cy="372.36" rx="6.37" ry="2.03" fill="#000" opacity="0.41" filter="url(#b1)"/>
<rect x="423.28" y="370.81" width="9.44" height="3.10" rx="1.55" fill="#000" opacity="0.65" filter="url(#b1)"/>
<ellipse cx="428.00" cy="372.36" rx="6.37" ry="2.13" fill="#000" opacity="0.49" filter="url(#b1)"/>
<rect x="439.28" y="370.63" width="9.44" height="3.46" rx="1.73" fill="#000" opacity="0.90" filter="url(#b1)"/>
<ellipse cx="444.00" cy="372.36" rx="6.37" ry="2.38" fill="#000" opacity="0.68" filter="url(#b1)"/>
<rect x="455.28" y="370.78" width="9.44" height="3.17" rx="1.58" fill="#000" opacity="0.70" filter="url(#b1)"/>
<ellipse cx="460.00" cy="372.36" rx="6.37" ry="2.18" fill="#000" opacity="0.52" filter="url(#b1)"/>
<rect x="472.28" y="371.03" width="9.44" height="2.66" rx="1.33" fill="#000" opacity="0.35" filter="url(#b1)"/>
<ellipse cx="477.00" cy="372.36" rx="6.37" ry="1.83" fill="#000" opacity="0.26" filter="url(#b1)"/>
<rect x="488.28" y="371.06" width="9.44" height="2.59" rx="1.30" fill="#000" opacity="0.30" filter="url(#b1)"/>
<ellipse cx="493.00" cy="372.36" rx="6.37" ry="1.78" fill="#000" opacity="0.22" filter="url(#b1)"/>
<rect x="504.78" y="371.03" width="9.44" height="2.66" rx="1.33" fill="#000" opacity="0.35" filter="url(#b1)"/>
<ellipse cx="509.50" cy="372.36" rx="6.37" ry="1.83" fill="#000" opacity="0.26" filter="url(#b1)"/>
</g>
<rect x="374" y="365.86" width="145" height="12.6" fill="none" stroke="#333" stroke-width="0.9"/>
<text x="371.3" y="375.06" font-size="7.9" text-anchor="end" font-weight="normal" fill="#111" >pS6</text>
<clipPath id="cp10"><rect x="374" y="380.90" width="145" height="12.6"/></clipPath>
<rect x="374" y="380.90" width="145" height="12.6" fill="#e9e9e9"/>
<g clip-path="url(#cp10)">
<rect x="390.84" y="384.74" width="12.32" height="5.33" rx="2.66" fill="#000" opacity="1.00" filter="url(#b1)"/>
<ellipse cx="397.00" cy="387.40" rx="8.32" ry="3.66" fill="#000" opacity="0.75" filter="url(#b1)"/>
<rect x="472.28" y="386.00" width="9.44" height="2.81" rx="1.40" fill="#000" opacity="0.45" filter="url(#b1)"/>
<ellipse cx="477.00" cy="387.40" rx="6.37" ry="1.93" fill="#000" opacity="0.34" filter="url(#b1)"/>
<rect x="488.28" y="386.21" width="9.44" height="2.38" rx="1.19" fill="#000" opacity="0.15" filter="url(#b1)"/>
<ellipse cx="493.00" cy="387.40" rx="6.37" ry="1.63" fill="#000" opacity="0.11" filter="url(#b1)"/>
<rect x="504.42" y="385.51" width="10.16" height="3.77" rx="1.89" fill="#000" opacity="1.00" filter="url(#b1)"/>
<ellipse cx="509.50" cy="387.40" rx="6.86" ry="2.59" fill="#000" opacity="0.75" filter="url(#b1)"/>
</g>
<rect x="374" y="380.90" width="145" height="12.6" fill="none" stroke="#333" stroke-width="0.9"/>
<text x="371.3" y="390.1" font-size="7.9" text-anchor="end" font-weight="normal" fill="#111" >Cl PARP</text>
<clipPath id="cp11"><rect x="374" y="395.94" width="145" height="12.6"/></clipPath>
<rect x="374" y="395.94" width="145" height="12.6" fill="#e6e6e6"/>
<g clip-path="url(#cp11)">
<rect x="376.20" y="398.70" width="9.60" height="2.08" rx="1.04" fill="#000" opacity="0.59" filter="url(#b1)"/>
<ellipse cx="381.00" cy="399.74" rx="6.48" ry="1.43" fill="#000" opacity="0.44" filter="url(#b1)"/>
<rect x="375.96" y="402.92" width="10.08" height="3.04" rx="1.52" fill="#000" opacity="0.90" filter="url(#b1)"/>
<ellipse cx="381.00" cy="404.44" rx="6.80" ry="2.09" fill="#000" opacity="0.68" filter="url(#b1)"/>
<rect x="392.20" y="398.70" width="9.60" height="2.08" rx="1.04" fill="#000" opacity="0.52" filter="url(#b1)"/>
<ellipse cx="397.00" cy="399.74" rx="6.48" ry="1.43" fill="#000" opacity="0.39" filter="url(#b1)"/>
<rect x="391.96" y="402.92" width="10.08" height="3.04" rx="1.52" fill="#000" opacity="0.80" filter="url(#b1)"/>
<ellipse cx="397.00" cy="404.44" rx="6.80" ry="2.09" fill="#000" opacity="0.60" filter="url(#b1)"/>
<rect x="407.20" y="398.70" width="9.60" height="2.08" rx="1.04" fill="#000" opacity="0.62" filter="url(#b1)"/>
<ellipse cx="412.00" cy="399.74" rx="6.48" ry="1.43" fill="#000" opacity="0.46" filter="url(#b1)"/>
<rect x="406.96" y="402.92" width="10.08" height="3.04" rx="1.52" fill="#000" opacity="0.95" filter="url(#b1)"/>
<ellipse cx="412.00" cy="404.44" rx="6.80" ry="2.09" fill="#000" opacity="0.71" filter="url(#b1)"/>
<rect x="423.20" y="398.70" width="9.60" height="2.08" rx="1.04" fill="#000" opacity="0.62" filter="url(#b1)"/>
<ellipse cx="428.00" cy="399.74" rx="6.48" ry="1.43" fill="#000" opacity="0.46" filter="url(#b1)"/>
<rect x="422.96" y="402.92" width="10.08" height="3.04" rx="1.52" fill="#000" opacity="0.95" filter="url(#b1)"/>
<ellipse cx="428.00" cy="404.44" rx="6.80" ry="2.09" fill="#000" opacity="0.71" filter="url(#b1)"/>
<rect x="439.20" y="398.70" width="9.60" height="2.08" rx="1.04" fill="#000" opacity="0.62" filter="url(#b1)"/>
<ellipse cx="444.00" cy="399.74" rx="6.48" ry="1.43" fill="#000" opacity="0.46" filter="url(#b1)"/>
<rect x="438.96" y="402.92" width="10.08" height="3.04" rx="1.52" fill="#000" opacity="0.95" filter="url(#b1)"/>
<ellipse cx="444.00" cy="404.44" rx="6.80" ry="2.09" fill="#000" opacity="0.71" filter="url(#b1)"/>
<rect x="455.20" y="398.70" width="9.60" height="2.08" rx="1.04" fill="#000" opacity="0.62" filter="url(#b1)"/>
<ellipse cx="460.00" cy="399.74" rx="6.48" ry="1.43" fill="#000" opacity="0.46" filter="url(#b1)"/>
<rect x="454.96" y="402.92" width="10.08" height="3.04" rx="1.52" fill="#000" opacity="0.95" filter="url(#b1)"/>
<ellipse cx="460.00" cy="404.44" rx="6.80" ry="2.09" fill="#000" opacity="0.71" filter="url(#b1)"/>
<rect x="472.20" y="398.70" width="9.60" height="2.08" rx="1.04" fill="#000" opacity="0.62" filter="url(#b1)"/>
<ellipse cx="477.00" cy="399.74" rx="6.48" ry="1.43" fill="#000" opacity="0.46" filter="url(#b1)"/>
<rect x="471.96" y="402.92" width="10.08" height="3.04" rx="1.52" fill="#000" opacity="0.95" filter="url(#b1)"/>
<ellipse cx="477.00" cy="404.44" rx="6.80" ry="2.09" fill="#000" opacity="0.71" filter="url(#b1)"/>
<rect x="488.20" y="398.70" width="9.60" height="2.08" rx="1.04" fill="#000" opacity="0.62" filter="url(#b1)"/>
<ellipse cx="493.00" cy="399.74" rx="6.48" ry="1.43" fill="#000" opacity="0.46" filter="url(#b1)"/>
<rect x="487.96" y="402.92" width="10.08" height="3.04" rx="1.52" fill="#000" opacity="0.95" filter="url(#b1)"/>
<ellipse cx="493.00" cy="404.44" rx="6.80" ry="2.09" fill="#000" opacity="0.71" filter="url(#b1)"/>
<rect x="504.70" y="398.70" width="9.60" height="2.08" rx="1.04" fill="#000" opacity="0.62" filter="url(#b1)"/>
<ellipse cx="509.50" cy="399.74" rx="6.48" ry="1.43" fill="#000" opacity="0.46" filter="url(#b1)"/>
<rect x="504.46" y="402.92" width="10.08" height="3.04" rx="1.52" fill="#000" opacity="0.95" filter="url(#b1)"/>
<ellipse cx="509.50" cy="404.44" rx="6.80" ry="2.09" fill="#000" opacity="0.71" filter="url(#b1)"/>
</g>
<rect x="374" y="395.94" width="145" height="12.6" fill="none" stroke="#333" stroke-width="0.9"/>
<text x="371.3" y="405.14" font-size="7.9" text-anchor="end" font-weight="normal" fill="#111" >tERK</text>
<clipPath id="cp12"><rect x="374" y="410.98" width="145" height="12.6"/></clipPath>
<rect x="374" y="410.98" width="145" height="12.6" fill="#e6e6e6"/>
<g clip-path="url(#cp12)">
<rect x="376.28" y="415.68" width="9.44" height="3.60" rx="1.80" fill="#000" opacity="1.00" filter="url(#b1)"/>
<ellipse cx="381.00" cy="417.48" rx="6.37" ry="2.48" fill="#000" opacity="0.75" filter="url(#b1)"/>
<rect x="392.28" y="415.68" width="9.44" height="3.60" rx="1.80" fill="#000" opacity="1.00" filter="url(#b1)"/>
<ellipse cx="397.00" cy="417.48" rx="6.37" ry="2.48" fill="#000" opacity="0.75" filter="url(#b1)"/>
<rect x="407.28" y="415.68" width="9.44" height="3.60" rx="1.80" fill="#000" opacity="1.00" filter="url(#b1)"/>
<ellipse cx="412.00" cy="417.48" rx="6.37" ry="2.48" fill="#000" opacity="0.75" filter="url(#b1)"/>
<rect x="423.28" y="415.68" width="9.44" height="3.60" rx="1.80" fill="#000" opacity="1.00" filter="url(#b1)"/>
<ellipse cx="428.00" cy="417.48" rx="6.37" ry="2.48" fill="#000" opacity="0.75" filter="url(#b1)"/>
<rect x="439.28" y="415.68" width="9.44" height="3.60" rx="1.80" fill="#000" opacity="1.00" filter="url(#b1)"/>
<ellipse cx="444.00" cy="417.48" rx="6.37" ry="2.48" fill="#000" opacity="0.75" filter="url(#b1)"/>
<rect x="455.28" y="415.68" width="9.44" height="3.60" rx="1.80" fill="#000" opacity="1.00" filter="url(#b1)"/>
<ellipse cx="460.00" cy="417.48" rx="6.37" ry="2.48" fill="#000" opacity="0.75" filter="url(#b1)"/>
<rect x="472.28" y="415.68" width="9.44" height="3.60" rx="1.80" fill="#000" opacity="1.00" filter="url(#b1)"/>
<ellipse cx="477.00" cy="417.48" rx="6.37" ry="2.48" fill="#000" opacity="0.75" filter="url(#b1)"/>
<rect x="488.28" y="415.68" width="9.44" height="3.60" rx="1.80" fill="#000" opacity="1.00" filter="url(#b1)"/>
<ellipse cx="493.00" cy="417.48" rx="6.37" ry="2.48" fill="#000" opacity="0.75" filter="url(#b1)"/>
<rect x="504.78" y="415.68" width="9.44" height="3.60" rx="1.80" fill="#000" opacity="1.00" filter="url(#b1)"/>
<ellipse cx="509.50" cy="417.48" rx="6.37" ry="2.48" fill="#000" opacity="0.75" filter="url(#b1)"/>
</g>
<rect x="374" y="410.98" width="145" height="12.6" fill="none" stroke="#333" stroke-width="0.9"/>
<text x="371.3" y="420.18" font-size="7.9" text-anchor="end" font-weight="normal" fill="#111" >β-Actin</text>
</g>
</svg></body></html>
